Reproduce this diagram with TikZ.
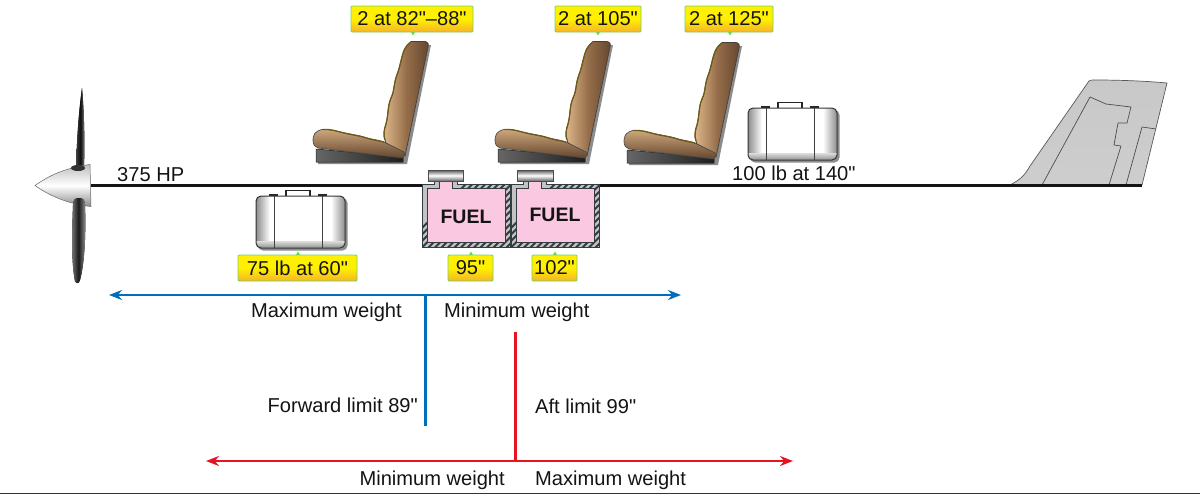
\documentclass[tikz,border=0pt]{standalone}
\usepackage{fontspec}
\newfontfamily\plainsans{Liberation Sans}
\usetikzlibrary{arrows.meta}
\definecolor{tagedge}{RGB}{120,210,90}
\definecolor{tagy}{RGB}{255,240,0}
\definecolor{tago}{RGB}{245,180,40}
\definecolor{fuelpink}{RGB}{250,200,225}
\definecolor{hatchd}{RGB}{50,60,65}
\definecolor{hatchl}{RGB}{195,195,195}
\definecolor{bluel}{RGB}{0,110,185}
\definecolor{redl}{RGB}{230,20,35}
\definecolor{tailg}{RGB}{200,200,200}
\definecolor{seatl}{RGB}{225,185,140}
\definecolor{seatm}{RGB}{150,110,75}
\definecolor{seatd}{RGB}{100,70,45}
\definecolor{seatrim}{RGB}{110,90,20}
\tikzset{
  every node/.style={font=\plainsans\fontsize{20.1}{24}\selectfont, text=black!92, inner sep=0pt},
  tagbox/.style={draw=tagedge, line width=0.9pt, rounded corners=1pt, top color=tagy, bottom color=tago, middle color=tagy, minimum height=26pt, anchor=center},
  tagtip/.style={fill=tagedge!80!green, draw=none},
  fuellabel/.style={font=\plainsans\fontsize{19.5}{24}\bfseries\selectfont},
  mainline/.style={line width=3pt, black!92},
  blueline/.style={line width=3pt, bluel},
  redline/.style={line width=3pt, redl},
  bluearrow/.style={line width=2.2pt, bluel, {Stealth[length=13pt,width=10pt]}-{Stealth[length=13pt,width=10pt]}},
  redarrow/.style={line width=2.2pt, redl, {Stealth[length=13pt,width=10pt]}-{Stealth[length=13pt,width=10pt]}},
  seat/.pic={
    % shadow
    \fill[black!45] (413,46) -- (431,45) -- (407,164) -- (318,164) -- (318,155) -- (405,155) -- cycle;
    % base
    \fill[left color=black!60, right color=black!88, draw=black!85, line width=0.5pt]
      (316,149) -- (403,157) -- (403,162) -- (316,162) -- cycle;
    % back
    \draw[left color=seatl, right color=seatd, middle color=seatm, draw=black!75, line width=0.7pt]
      (386,143) .. controls (383,135) and (384,130) .. (386,124)
      .. controls (389,112) and (387,108) .. (391,98)
      .. controls (395,90) and (393,84) .. (398,72)
      .. controls (402,60) and (402,48) .. (411,41.5)
      -- (425,41.5) .. controls (428,42) and (429,44) .. (428,47)
      -- (405,156) -- cycle;
    \draw[seatrim, line width=1.3pt]
      (385,140) .. controls (383,135) and (384,130) .. (386,124)
      .. controls (389,112) and (387,108) .. (391,98)
      .. controls (395,90) and (393,84) .. (398,72)
      .. controls (402,60) and (402,48) .. (410,43);
    % cushion
    \draw[top color=seatl!85!seatd, bottom color=seatd, draw=black!70, line width=0.7pt]
      (322,129.5) .. controls (315,131) and (313,135) .. (313,140)
      .. controls (313,145) and (315,147) .. (318,148)
      -- (403,158) .. controls (405,156) and (405,154) .. (404,152)
      -- (384,142) .. controls (375,139) and (368,139) .. (360,136)
      .. controls (350,134) and (345,133) .. (340,132)
      .. controls (333,130) and (328,129) .. (322,129.5) -- cycle;
    \draw[seatrim, line width=1.3pt]
      (323,129.5) .. controls (328,129) and (333,130) .. (344,133)
      .. controls (352,135) and (362,136) .. (368,138.5)
      .. controls (373,140) and (380,141) .. (384,142);
  },
  suitcase/.pic={
    \fill[black!45, rounded corners=5pt] (258,198) rectangle (347.5,250.5);
    \fill[black!85] (269,193.6) rectangle (278,195.5);
    \fill[black!85] (318,193.6) rectangle (327,195.5);
    \draw[black!85, line width=1.3pt] (286,196) -- (286,190.5) -- (310,190.5) -- (310,196);
    \fill[white, rounded corners=5pt] (256,196) rectangle (345,248);
    \begin{scope}
      \clip[rounded corners=5pt] (256,196) rectangle (345,248);
      \fill[left color=black!45, right color=white] (256,196) rectangle (270,248);
      \fill[left color=white, right color=black!45] (331,196) rectangle (345,248);
      \fill[top color=white, bottom color=black!35, opacity=0.85] (256,241) rectangle (345,248);
    \end{scope}
    \draw[black!80, line width=1pt, rounded corners=5pt] (256,196) rectangle (345,248);
    \draw[black!75, line width=0.7pt] (274,196) -- (274,248);
    \draw[black!75, line width=0.7pt] (322,196) -- (322,248);
  }
}
\begin{document}
\begin{tikzpicture}[x=1pt,y=-1pt]
\useasboundingbox (0,0) rectangle (1200,496);
\fill[white] (0,0) rectangle (1200,496);

% tail
\draw[top color=tailg, bottom color=tailg!90!white, draw=black!65, line width=0.7pt]
  (1010,185) .. controls (1020,180) and (1025,175) .. (1030,166) -- (1089,81)
  .. controls (1090,80) and (1092,80) .. (1095,80)
  .. controls (1120,80) and (1145,81) .. (1167,83) -- (1142,185) -- cycle;
\draw[black!70, line width=0.7pt] (1042,185) -- (1090,97) -- (1106,104) -- (1131,107) -- (1127,123) -- (1118,123) -- (1114,145) -- (1121,146) -- (1109,185);
\draw[black!70, line width=0.7pt] (1126,185) -- (1142,127) -- (1156,129);

% main fuselage line
\coordinate (lineA) at (91,185);
\coordinate (lineB) at (422,185);
\coordinate (lineC) at (599,185);
\coordinate (lineD) at (1142,185);
\draw[mainline] (lineA) -- (lineB);
\draw[mainline] (lineC) -- (lineD);

% propeller
\fill[left color=black!75, right color=black!45, middle color=black!95]
  (82,88) .. controls (79,110) and (77,135) .. (76,168) -- (84,168) .. controls (85,140) and (84,110) .. (82,88) -- cycle;
\draw[top color=black!25, bottom color=black!45, middle color=white, draw=black!60, line width=0.5pt]
  (35,185.5) .. controls (50,175) and (65,168) .. (90,164.5) -- (91,206.5) .. controls (68,204) and (50,196) .. (35,185.5) -- cycle;
\fill[black!80] (78,168) ellipse (7pt and 3pt);
\fill[left color=black!50, right color=black!40, middle color=black!90]
  (73,205) .. controls (73,199) and (76,198) .. (79,198) .. controls (83,198) and (85,200) .. (85,205)
  .. controls (86,230) and (85,262) .. (80,280) .. controls (79,284) and (76,284) .. (75,281)
  .. controls (71,262) and (72,230) .. (73,205) -- cycle;

% seats
\pic {seat};
\pic at (182,0) {seat};
\pic at (311,1) {seat};

% suitcases
\pic {suitcase};
\pic at (492,-88) {suitcase};

% left tank
\begin{scope}
  \clip (422,184) rectangle (510,247) (434,181) rectangle (457,185);
  \fill[hatchl] (422,181) rectangle (510,247);
  \foreach \k in {0,6.5,...,168} {
    \draw[hatchd, line width=1.8pt] (\k+400,250) -- (\k+400+72,178);
  }
\end{scope}
\draw[hatchd, line width=0.6pt] (422,184) -- (434,184) -- (434,181) -- (457,181) -- (457,184) -- (510,184) -- (510,247) -- (422,247) -- cycle;
\fill[fuelpink] (427,188) -- (439,188) -- (439,181) -- (452,181) -- (452,188) -- (505,188) -- (505,242) -- (427,242) -- cycle;
\draw[hatchd, line width=0.6pt] (439,181) -- (439,188) -- (427,188) -- (427,242) -- (505,242) -- (505,188) -- (452,188) -- (452,181);
\draw[top color=black!65, bottom color=black!60, middle color=white, draw=black!70, line width=0.5pt] (428,170) rectangle (463,181);

% right tank
\begin{scope}
  \clip (511,184) rectangle (599,247) (523,181) rectangle (546,185);
  \fill[hatchl] (511,181) rectangle (599,247);
  \foreach \k in {0,6.5,...,168} {
    \draw[hatchd, line width=1.8pt] (\k+489,250) -- (\k+489+72,178);
  }
\end{scope}
\draw[hatchd, line width=0.6pt] (511,184) -- (523,184) -- (523,181) -- (546,181) -- (546,184) -- (599,184) -- (599,247) -- (511,247) -- cycle;
\fill[fuelpink] (516,188) -- (528,188) -- (528,181) -- (541,181) -- (541,188) -- (594,188) -- (594,242) -- (516,242) -- cycle;
\draw[hatchd, line width=0.6pt] (528,181) -- (528,188) -- (516,188) -- (516,242) -- (594,242) -- (594,188) -- (541,188) -- (541,181);
\draw[top color=black!65, bottom color=black!60, middle color=white, draw=black!70, line width=0.5pt] (517,170) rectangle (553,181);

\node[fuellabel] (fuelA) at (466,216.5) {FUEL};
\node[fuellabel] (fuelB) at (555,214.5) {FUEL};

% tags
\fill[tagtip] (411,32) -- (415,32) -- (413,35.5) -- cycle;
\fill[tagtip] (596,32) -- (600,32) -- (598,35.5) -- cycle;
\fill[tagtip] (728,32) -- (732,32) -- (730,35.5) -- cycle;
\fill[tagtip] (296,255) -- (300,255) -- (298,251.5) -- cycle;
\fill[tagtip] (469,255) -- (473,255) -- (471,251.5) -- cycle;
\fill[tagtip] (553,255) -- (557,255) -- (555,251.5) -- cycle;
\node[tagbox, minimum width=122pt] (tagA) at (412,19) {2 at 82"–88"};
\node[tagbox, minimum width=86pt] (tagB) at (598,19) {2 at 105"};
\node[tagbox, minimum width=88pt] (tagC) at (729,19) {2 at 125"};
\node[tagbox, minimum width=119pt] (tagD) at (297.5,268) {75 lb at 60"};
\node[tagbox, minimum width=45pt] (tagE) at (470.5,268) {95"};
\node[tagbox, minimum width=45pt] (tagF) at (554.5,268) {102"};

% labels
\node[anchor=west] (hp) at (117,174.5) {375 HP};
\node[anchor=west] (bag) at (732,173.5) {100 lb at 140"};

% limit lines
\coordinate (blueL) at (109,295);
\coordinate (blueR) at (681,295);
\coordinate (blueT) at (425,295);
\coordinate (blueB) at (425,426);
\coordinate (redL) at (206,461);
\coordinate (redR) at (793,461);
\coordinate (redT) at (515,332);
\coordinate (redB) at (515,461);
\draw[bluearrow] (blueL) -- (blueR);
\draw[blueline] (blueT) -- (blueB);
\draw[redarrow] (redL) -- (redR);
\draw[redline] (redT) -- (redB);

\node[anchor=east] (maxA) at (402,312) {Maximum weight};
\node[anchor=west] (minA) at (444,312) {Minimum weight};
\node[anchor=east] (fwd) at (418,405) {Forward limit 89"};
\node[anchor=west] (aft) at (535,406) {Aft limit 99"};
\node[anchor=east] (minB) at (505,480) {Minimum weight};
\node[anchor=west] (maxB) at (535,480) {Maximum weight};

% rule at the foot
\coordinate (ruleL) at (0,493.5);
\coordinate (ruleR) at (1200,493.5);
\draw[black!80, line width=1pt] (ruleL) -- (ruleR);
\end{tikzpicture}
\end{document}
